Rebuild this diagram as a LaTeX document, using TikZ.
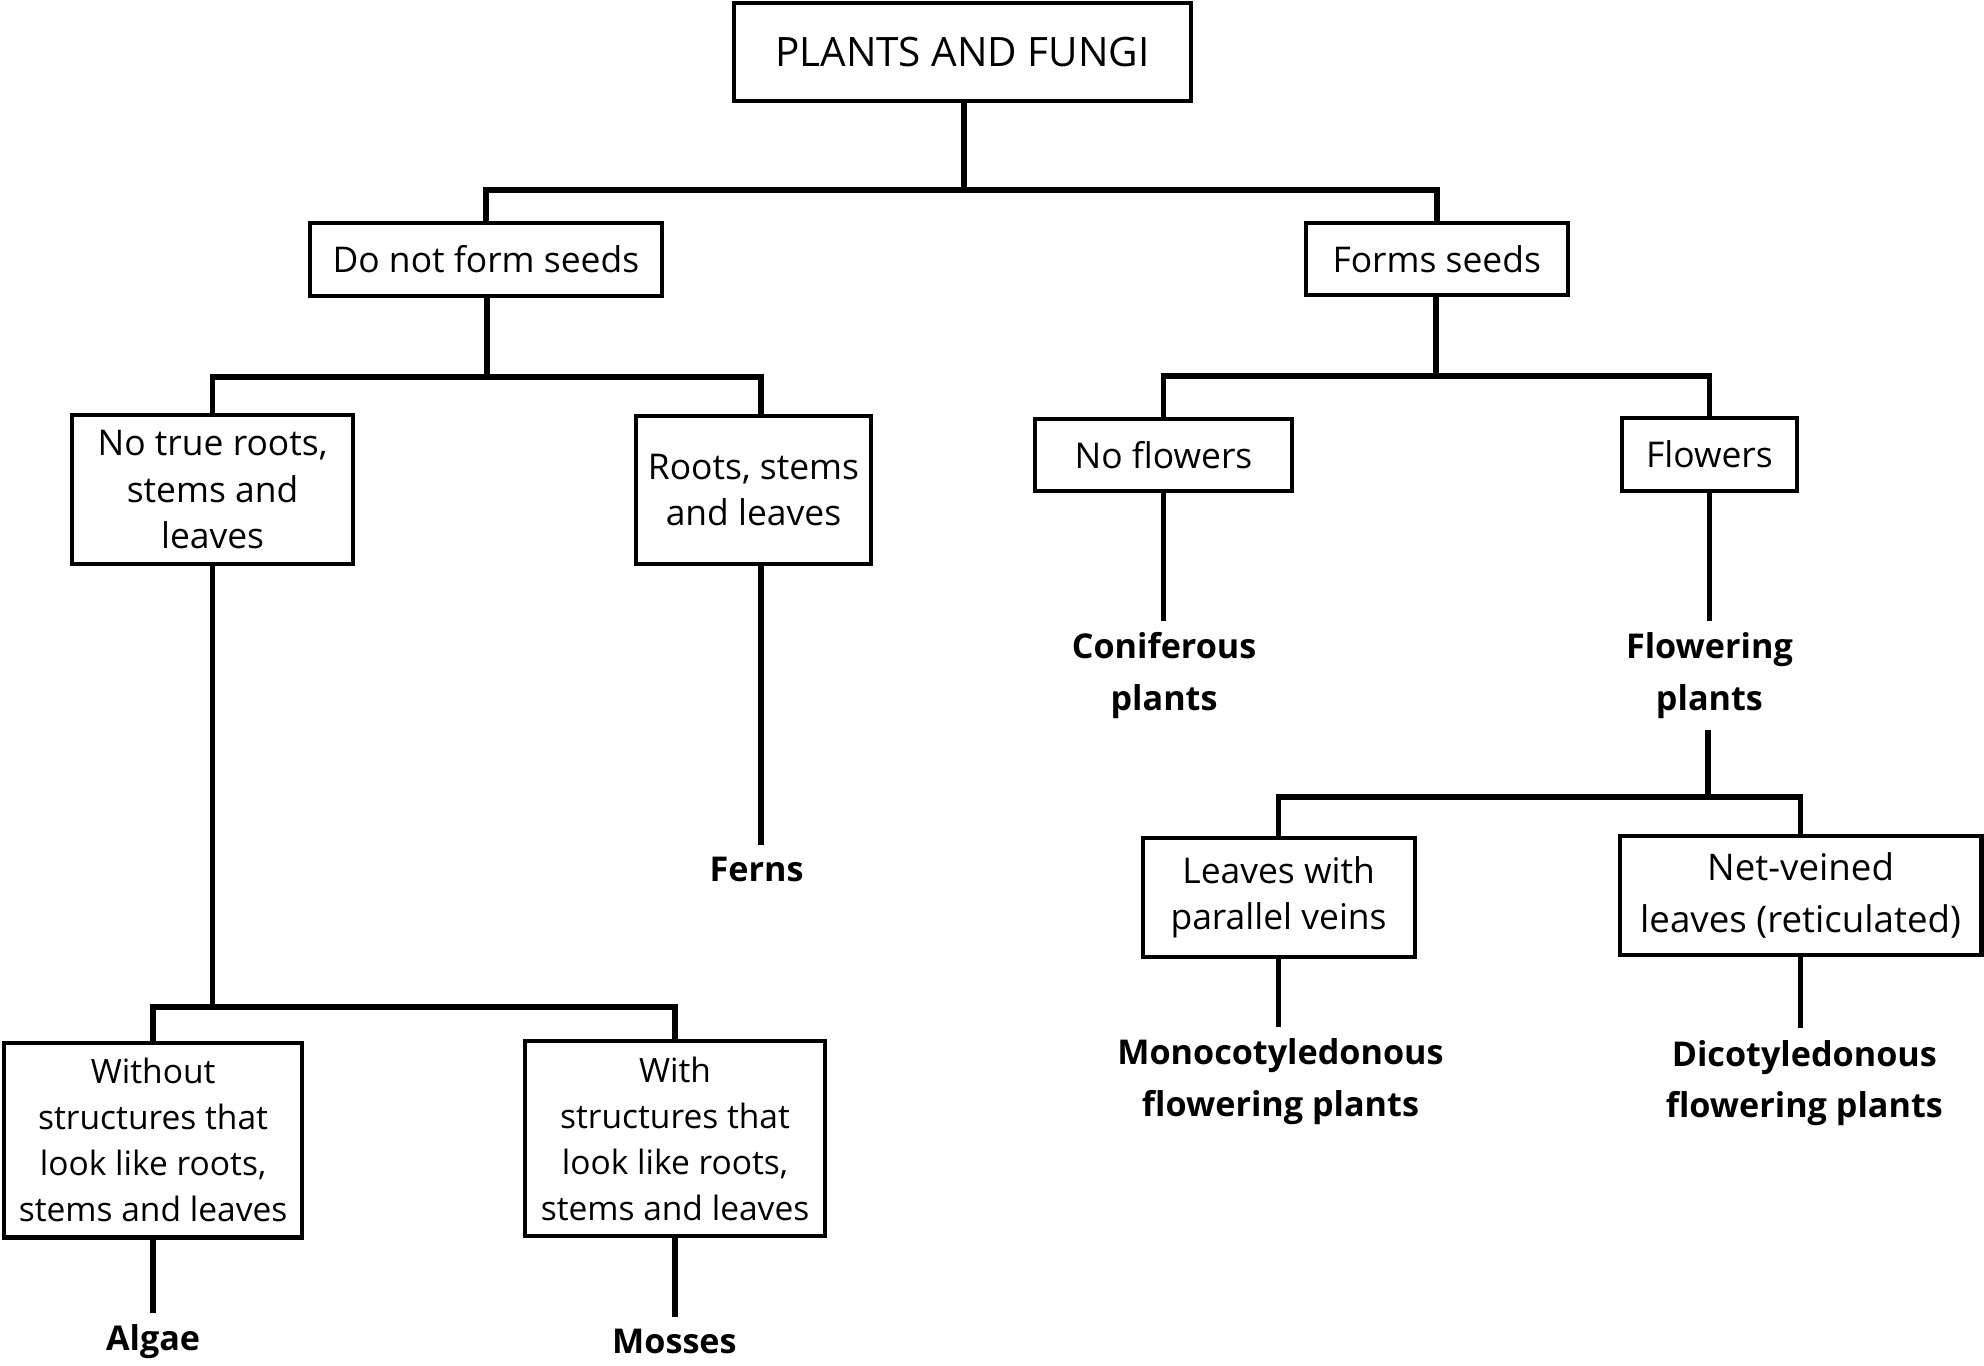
\documentclass[tikz,border=0pt]{standalone}
\usepackage{fontspec}
\setmainfont{Open Sans}
\begin{document}
\begin{tikzpicture}[x=1pt,y=-1pt,
  box/.style={draw, line width=3.2pt, align=center, inner sep=0pt, font=\fontsize{28}{36.5}\selectfont},
  lab/.style={font=\fontsize{27}{41}\selectfont\bfseries, align=center, inner sep=9pt},
  conn/.style={line width=4.4pt}]
\useasboundingbox (0,0) rectangle (1568,1079);
% boxes
\node[box, minimum width=361pt, minimum height=78pt, font=\fontsize{32}{36.5}\selectfont] (top) at (760.5,41) {PLANTS AND FUNGI};
\node[box, minimum width=278pt, minimum height=58pt] (nos) at (384,205) {Do not form seeds};
\node[box, minimum width=207pt, minimum height=57pt] (fs) at (1135.5,204.5) {Forms seeds};
\node[box, minimum width=222pt, minimum height=118pt] (ntr) at (168,387) {No true roots,\\stems and\\leaves};
\node[box, minimum width=185pt, minimum height=117pt] (rsl) at (595.5,387.5) {Roots, stems\\and leaves};
\node[box, minimum width=203pt, minimum height=57pt] (nf) at (919.5,359.5) {No flowers};
\node[box, minimum width=138pt, minimum height=58pt] (fl) at (1351,359) {Flowers};
\node[box, minimum width=215pt, minimum height=94pt] (lpv) at (1010.5,709) {Leaves with\\parallel veins};
\node[box, minimum width=286pt, minimum height=94pt, font=\fontsize{29}{41}\selectfont] (nvl) at (1423,708) {Net-veined\\leaves (reticulated)};
\node[box, minimum width=236pt, minimum height=154pt, font=\fontsize{26.5}{36.5}\selectfont] (wo) at (121,901) {Without\\structures that\\look like roots,\\stems and leaves};
\node[box, minimum width=237pt, minimum height=154pt, font=\fontsize{26.5}{36.5}\selectfont] (wi) at (533.5,900) {With\\structures that\\look like roots,\\stems and leaves};
% labels
\node[lab] (ferns) at (598,687) {Ferns};
\node[lab] (conif) at (920,534) {Coniferous\\plants};
\node[lab] (flowering) at (1351,534) {Flowering\\plants};
\node[lab] (mono) at (1012,855) {Monocotyledonous\\flowering plants};
\node[lab] (dico) at (1426,856) {Dicotyledonous\\flowering plants};
\node[lab] (algae) at (121,1060) {Algae};
\node[lab] (mosses) at (533,1060) {Mosses};
% junctions
\coordinate (h1) at (762,150);
\coordinate (h2) at (385,298);
\coordinate (h3) at (1135,297);
\coordinate (h4) at (1350,630);
\coordinate (h5) at (168,796);
% connectors
\draw[conn] (top.south -| h1) -- (h1);
\draw[conn] (nos.north) |- (h1) -| (fs.north);
\draw[conn] (nos.south -| h2) -- (h2);
\draw[conn] (ntr.north) |- (h2) -| ([xshift=6pt]rsl.north);
\draw[conn] (fs.south -| h3) -- (h3);
\draw[conn] (nf.north) |- (h3) -| (fl.north);
\draw[conn] (nf.south) -- (nf.south |- conif.north);
\draw[conn] (fl.south) -- (fl.south |- flowering.north);
\draw[conn] (flowering.south -| h4) -- (h4);
\draw[conn] (lpv.north) |- (h4) -| (nvl.north);
\draw[conn] (lpv.south) -- (lpv.south |- mono.north);
\draw[conn] (nvl.south) -- (nvl.south |- dico.north);
\draw[conn] (ntr.south -| h5) -- (h5);
\draw[conn] (wo.north) |- (h5) -| (wi.north);
\draw[conn] (wo.south) -- (wo.south |- algae.north);
\draw[conn] (wi.south) -- (wi.south |- mosses.north);
\draw[conn] ([xshift=6pt]rsl.south) -- ([xshift=6pt]rsl.south |- ferns.north);
\end{tikzpicture}
\end{document}
